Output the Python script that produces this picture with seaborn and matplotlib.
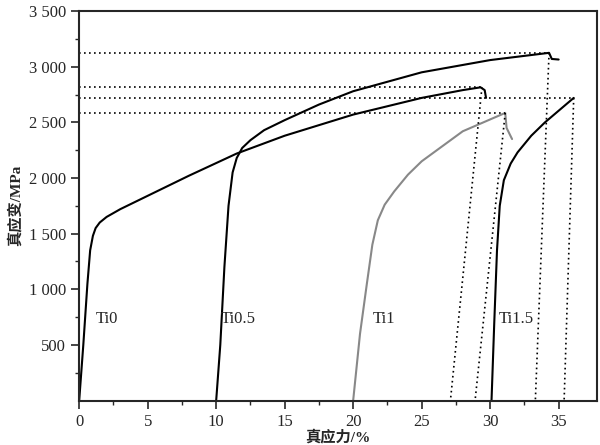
import matplotlib
matplotlib.use("Agg")
import matplotlib.pyplot as plt
import seaborn as sns
import pandas as pd

ti0_x = [0, 0.3, 0.6, 0.8, 1.0, 1.2, 1.5, 2.0, 3, 4.5, 6, 8, 11.5, 15, 20, 25, 28, 29.3, 29.6, 29.7]
ti0_y = [0, 500, 1050, 1350, 1480, 1550, 1600, 1650, 1720, 1810, 1900, 2020, 2220, 2380, 2570, 2720, 2790, 2815, 2790, 2720]
ti05_x = [10, 10.3, 10.6, 10.9, 11.2, 11.5, 11.9, 12.5, 13.5, 15, 17.5, 20, 25, 30, 34.3, 34.5, 35]
ti05_y = [0, 500, 1200, 1750, 2050, 2180, 2270, 2340, 2430, 2520, 2660, 2780, 2950, 3060, 3125, 3070, 3065]
ti1_x = [20, 20.5, 21, 21.4, 21.8, 22.3, 23, 24, 25, 28, 31.1, 31.2, 31.6]
ti1_y = [0, 600, 1050, 1400, 1620, 1760, 1880, 2030, 2150, 2420, 2585, 2450, 2350]
ti15_x = [30.1, 30.3, 30.5, 30.7, 31.0, 31.5, 32, 33, 34, 36.1]
ti15_y = [0, 700, 1350, 1750, 1980, 2130, 2230, 2380, 2500, 2720]
series = [("Ti0", ti0_x, ti0_y, "black"), ("Ti0.5", ti05_x, ti05_y, "black"),
          ("Ti1", ti1_x, ti1_y, "#888888"), ("Ti1.5", ti15_x, ti15_y, "black")]
peak_x = [29.4, 34.3, 31.1, 36.1]
peak_y = [2815, 3125, 2585, 2720]
unload_x = [27.1, 33.3, 28.9, 35.4]
label_pos = [(1.2, 700), (10.3, 700), (21.4, 700), (30.6, 700)]
xticks = [0, 5, 10, 15, 20, 25, 30, 35]
yticks = [500, 1000, 1500, 2000, 2500, 3000, 3500]
ytick_labels = ["500", "1 000", "1 500", "2 000", "2 500", "3 000", "3 500"]

sns.set_theme(style="ticks")
plt.rcParams['font.family'] = ['Liberation Serif', 'Noto Sans CJK SC']
fig = plt.figure(figsize=(6, 4.45), dpi=100)
ax = fig.add_axes([0.132, 0.10, 0.863, 0.875])
for name, xs, ys, c in series:
    df = pd.DataFrame({"x": xs, "y": ys})
    sns.lineplot(data=df, x="x", y="y", ax=ax, color=c, lw=1.5, sort=False, estimator=None)
for px, py, ux in zip(peak_x, peak_y, unload_x):
    ax.plot([0, px], [py, py], ls=(0, (1, 2)), color="black", lw=1.2)
    ax.plot([px, ux], [py, 0], ls=(0, (1, 2)), color="black", lw=1.2)
for (name, *_), (lx, ly) in zip(series, label_pos):
    ax.text(lx, ly, name, fontsize=12, family="Liberation Serif")
ax.set_xlim(0, 37.8)
ax.set_ylim(0, 3500)
ax.set_xticks(xticks)
ax.set_xticks([2.5 + 5 * i for i in range(7)], minor=True)
ax.set_yticks(yticks)
ax.set_yticklabels(ytick_labels)
ax.set_yticks([250 + 500 * i for i in range(7)], minor=True)
ax.tick_params(labelsize=12, direction="out", width=1.2)
ax.tick_params(which="minor", length=3, direction="out")
for s in ax.spines.values():
    s.set_linewidth(1.5)
ax.set_xlabel("真应力/%", fontsize=11, fontweight="bold", labelpad=0)
ax.set_ylabel("真应变/MPa", fontsize=11, fontweight="bold")
fig.savefig("out.png", dpi=100)
